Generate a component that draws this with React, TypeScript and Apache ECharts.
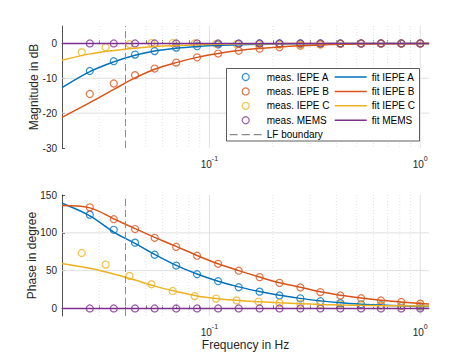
import React, { useEffect, useRef } from "react";
import * as echarts from "echarts";

// Frequencies (Hz) of the measurements
const freq = [0.0271, 0.0352, 0.0444, 0.055, 0.0696, 0.0874, 0.11, 0.1377, 0.173, 0.215, 0.27, 0.336, 0.418, 0.524, 0.651, 0.813, 1.0];
const freqC = [0.0248, 0.0322, 0.0418, 0.0531, 0.067, 0.0851, 0.1076, 0.1346, 0.171, 0.215, 0.27, 0.336, 0.418, 0.524, 0.651, 0.813, 1.0];
// Frequencies at which the fitted curves are read
const fitFreq = [0.02, 0.0271, 0.0352, 0.0444, 0.055, 0.0696, 0.0874, 0.11, 0.1377, 0.173, 0.215, 0.27, 0.336, 0.418, 0.524, 0.651, 0.813, 1.0, 1.1];

// Magnitude (dB)
const magA = [-7.9, -5.1, -3.2, -2.2, -1.2, -0.8, -0.3, -0.1, 0, 0, 0, 0, 0, 0, 0, 0, 0];
const magB = [-14.5, -11.5, -9.1, -7.2, -5.5, -4.0, -2.9, -2.1, -1.5, -1.1, -0.65, -0.3, -0.1, 0, 0, 0, 0];
const magC = [-2.5, -1.1, -0.2, 0.1, 0.1, 0, -0.1, -0.2, -0.3, -0.4, -0.4, -0.2, -0.1, 0, 0, 0, 0];
const magM = [0, 0, 0, 0, 0, 0, 0, 0, 0, 0, 0, 0, 0, 0, 0, 0, 0];
const fitMagA = [-12.7, -8.1, -5.3, -3.4, -2.2, -1.4, -0.9, -0.55, -0.35, -0.22, -0.14, -0.09, -0.06, -0.04, -0.03, -0.02, -0.01, 0, 0];
const fitMagB = [-21.2, -17.0, -13.2, -9.9, -7.4, -5.5, -4.0, -2.9, -2.05, -1.45, -1.0, -0.65, -0.42, -0.27, -0.17, -0.11, -0.07, -0.05, -0.04];
const fitMagC = [-4.8, -3.0, -2.0, -1.35, -0.9, -0.6, -0.4, -0.25, -0.15, -0.1, -0.06, -0.04, -0.02, -0.01, 0, 0, 0, 0, 0];
const fitMagM = [0, 0, 0, 0, 0, 0, 0, 0, 0, 0, 0, 0, 0, 0, 0, 0, 0, 0, 0];

// Phase (degree)
const phA = [124, 104, 87, 71, 56.7, 45.2, 36, 28, 22.2, 17.2, 13.3, 9.5, 7, 5.5, 4.3, 3.3, 2.7];
const phB = [133.7, 118, 105, 93.4, 81.4, 69.7, 59, 49.9, 41.4, 33.8, 27.7, 21.6, 17.2, 13.5, 10.5, 8.5, 6.3];
const phC = [73.4, 58, 43, 32, 23.1, 16.3, 13, 10.6, 9, 7.3, 6.2, 5.4, 4.8, 4.3, 3.8, 3.4, 3.2];
const phM = [0, 0, 0, 0, 0, 0, 0, 0, 0, 0, 0, 0, 0, 0, 0, 0, 0];
const fitPhA = [139, 122.5, 101, 86, 71.5, 57, 45.5, 36, 28.5, 22.3, 17.3, 13.3, 10, 7.5, 5.7, 4.4, 3.4, 2.7, 2.4];
const fitPhB = [136, 133, 118.5, 105.5, 94, 82, 70, 59, 50, 41.5, 34, 28, 22, 17.5, 13.8, 10.8, 8.5, 6.5, 5.8];
const fitPhC = [59.5, 53, 45.5, 37.5, 29.5, 22.5, 16.5, 12.8, 10.4, 8.8, 7.4, 6.2, 5.3, 4.6, 4.1, 3.7, 3.4, 3.2, 3.1];
const fitPhM = [0, 0, 0, 0, 0, 0, 0, 0, 0, 0, 0, 0, 0, 0, 0, 0, 0, 0, 0];

const lfBoundary = 0.04;
const xMajor = [0.1, 1];
const xMinor = [0.03, 0.04, 0.05, 0.06, 0.07, 0.08, 0.09, 0.2, 0.3, 0.4, 0.5, 0.6, 0.7, 0.8, 0.9];
const magTicks = [-30, -20, -10, 0];
const phTicks = [0, 50, 100, 150];

const names = ["IEPE A", "IEPE B", "IEPE C", "MEMS"];
const colors = ["#0072BD", "#D95319", "#EDB120", "#7E2F8E"];
const FONT = "Liberation Sans, Arial, Helvetica, sans-serif";
const TXT = "#262626";
const LINE_ICON = "path://M0,0h32v1.5h-32z";
const DASH_ICON = "path://M0,0h8v1.1h-8zM12,0h8v1.1h-8zM24,0h8v1.1h-8z";

const pairs = (xs: number[], ys: number[]) => xs.map((x, i) => [x, ys[i]]);

function gridSeries(idx: number, yLines: number[]) {
  const vData = [...xMajor.map((f) => [f, 1]), ...xMinor.map((f) => [f, 0])];
  return [
    {
      type: "custom",
      xAxisIndex: idx,
      yAxisIndex: idx,
      silent: true,
      data: vData,
      renderItem: (params: any, api: any) => {
        const cs = params.coordSys;
        const x = api.coord([api.value(0), yLines[0]])[0];
        const major = api.value(1) === 1;
        return {
          type: "line",
          shape: { x1: x, y1: cs.y, x2: x, y2: cs.y + cs.height },
          style: major
            ? { stroke: "#e0e0e0", lineWidth: 1 }
            : { stroke: "#e2e2e2", lineWidth: 1, lineDash: [1, 2] },
        };
      },
    },
    {
      type: "custom",
      xAxisIndex: idx,
      yAxisIndex: idx,
      silent: true,
      data: yLines.map((v) => [0.1, v]),
      renderItem: (params: any, api: any) => {
        const cs = params.coordSys;
        const y = api.coord([api.value(0), api.value(1)])[1];
        return {
          type: "line",
          shape: { x1: cs.x, y1: y, x2: cs.x + cs.width, y2: y },
          style: { stroke: "#e0e0e0", lineWidth: 1 },
        };
      },
    },
  ];
}

function dataSeries(idx: number, meas: number[][], fits: number[][], lfRange: number[]) {
  const out: any[] = [];
  for (let k = 0; k < 4; k++) {
    out.push({
      type: "scatter",
      name: "meas. " + names[k],
      xAxisIndex: idx,
      yAxisIndex: idx,
      symbol: "circle",
      symbolSize: 7,
      color: colors[k],
      itemStyle: { color: "rgba(0,0,0,0)", borderColor: colors[k], borderWidth: 1.2 },
      data: pairs(k === 2 ? freqC : freq, meas[k]),
    });
    out.push({
      type: "line",
      name: "fit " + names[k],
      xAxisIndex: idx,
      yAxisIndex: idx,
      color: colors[k],
      symbol: "none",
      showSymbol: false,
      smooth: 0.35,
      lineStyle: { width: 1.5, color: colors[k] },
      data: pairs(fitFreq, fits[k]),
    });
  }
  out.push({
    type: "line",
    name: "LF boundary",
    xAxisIndex: idx,
    yAxisIndex: idx,
    color: "#8a8a8a",
    symbol: "none",
    showSymbol: false,
    lineStyle: { width: 1, color: "#8a8a8a", type: [7, 4] },
    data: [[lfBoundary, lfRange[0]], [lfBoundary, lfRange[1]]],
  });
  return out;
}

const xAxisBase = (idx: number, withName: boolean) => ({
  type: "log",
  logBase: 10,
  gridIndex: idx,
  min: 0.02,
  max: 1.1,
  axisLine: { show: true, lineStyle: { color: TXT, width: 0.8 } },
  axisTick: { show: true, inside: true, length: 3, customValues: [...xMinor, ...xMajor], lineStyle: { color: TXT, width: 0.8 } },
  splitLine: { show: false },
  minorTick: { show: false },
  axisLabel: {
    customValues: xMajor,
    margin: 7,
    color: TXT,
    formatter: (v: number) => "{b|10}{s|" + Math.round(Math.log10(v)) + "}",
    rich: {
      b: { fontSize: 10, fontFamily: FONT, color: TXT, lineHeight: 14, verticalAlign: "bottom" },
      s: { fontSize: 7, fontFamily: FONT, color: TXT, lineHeight: 8, verticalAlign: "top" },
    },
  },
  name: withName ? "Frequency in Hz" : "",
  nameLocation: "middle",
  nameGap: 23,
  nameMoveOverlap: false,
  nameTextStyle: { fontSize: 12, color: TXT, fontFamily: FONT },
});

const yAxisBase = (idx: number, min: number, max: number, ticks: number[], name: string, gap: number) => ({
  type: "value",
  gridIndex: idx,
  min,
  max,
  axisLine: { show: true, lineStyle: { color: TXT, width: 0.8 } },
  axisTick: { show: true, inside: true, length: 3, customValues: ticks, lineStyle: { color: TXT, width: 0.8 } },
  splitLine: { show: false },
  axisLabel: { customValues: ticks, fontSize: 10, color: TXT, fontFamily: FONT, margin: 5 },
  name,
  nameLocation: "middle",
  nameGap: gap,
  nameMoveOverlap: false,
  nameTextStyle: { fontSize: 12, color: TXT, fontFamily: FONT },
});

export default function App() {
  const ref = useRef<HTMLDivElement>(null);
  useEffect(() => {
    if (!ref.current) return;
    const chart = echarts.init(ref.current, undefined, { renderer: "svg" });
    const legendText = { fontSize: 10, color: "#000", fontFamily: FONT, lineHeight: 12 };
    const option: any = {
      animation: false,
      backgroundColor: "#ffffff",
      textStyle: { fontFamily: FONT },
      grid: [
        { left: 62, right: 45, top: 26, height: 122 },
        { left: 62, right: 45, top: 195, height: 121 },
      ],
      xAxis: [xAxisBase(0, false), xAxisBase(1, true)],
      yAxis: [
        yAxisBase(0, -30, 5, magTicks, "Magnitude in dB", 22),
        yAxisBase(1, -10, 150, phTicks, "Phase in degree", 24),
      ],
      legend: [
        {
          orient: "vertical",
          left: 229.7,
          top: 71,
          padding: 0,
          itemWidth: 32,
          itemHeight: 7,
          itemGap: 2.4,
          selectedMode: false,
          z: 10,
          textStyle: legendText,
          data: [
            ...names.map((n, k) => ({
              name: "meas. " + n,
              icon: "circle",
              itemStyle: { color: "rgba(0,0,0,0)", borderColor: colors[k], borderWidth: 1.2 },
            })),
            { name: "LF boundary", icon: DASH_ICON, itemStyle: { color: "#8a8a8a", borderWidth: 0 } },
          ],
        },
        {
          orient: "vertical",
          left: 334.7,
          top: 71,
          padding: 0,
          itemWidth: 32,
          itemHeight: 7,
          itemGap: 2.4,
          selectedMode: false,
          z: 10,
          textStyle: legendText,
          data: names.map((n, k) => ({
            name: "fit " + n,
            icon: LINE_ICON,
            itemStyle: { color: colors[k], borderWidth: 0 },
          })),
        },
      ],
      graphic: [
        {
          type: "rect",
          z: 5,
          silent: true,
          shape: { x: 226.5, y: 68.5, width: 193, height: 72.5 },
          style: { fill: "#ffffff", stroke: "#333333", lineWidth: 0.8 },
        },
      ],
      series: [
        ...gridSeries(0, [-20, -10, 0]),
        ...gridSeries(1, [0, 50, 100]),
        ...dataSeries(0, [magA, magB, magC, magM], [fitMagA, fitMagB, fitMagC, fitMagM], [-30, 5]),
        ...dataSeries(1, [phA, phB, phC, phM], [fitPhA, fitPhB, fitPhC, fitPhM], [-10, 150]),
      ],
    };
    chart.setOption(option);
    return () => chart.dispose();
  }, []);
  return (
    <div
      ref={ref}
      style={{ position: "fixed", left: 0, top: 0, width: 474, height: 355, background: "#fff" }}
    />
  );
}
